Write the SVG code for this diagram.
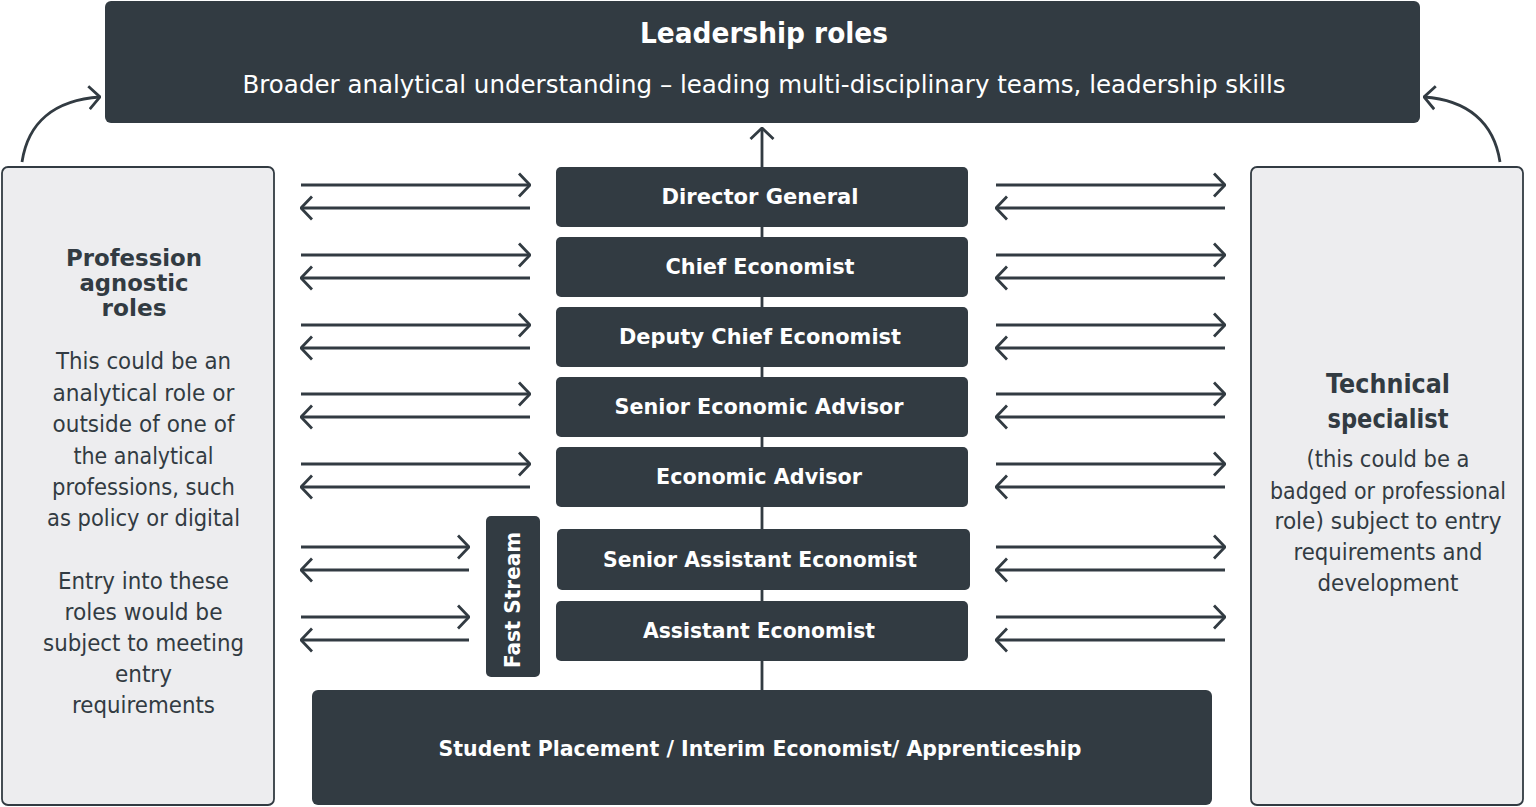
<svg xmlns="http://www.w3.org/2000/svg" width="1536" height="807" viewBox="0 0 1536 807">
<style>
.dark{fill:#323b42;}
.light{fill:#ededef;stroke:#323b42;stroke-width:1.8;}
.t{font-family:"DejaVu Sans","Noto Sans",sans-serif;text-anchor:middle;}
.w{fill:#ffffff;}
.k{fill:#323b42;}
.b{font-weight:bold;}
.ln{fill:none;stroke:#323b42;stroke-width:2.8;}
</style>
<defs>
<marker id="ah" viewBox="0 0 13 26" refX="12" refY="13" markerWidth="13" markerHeight="26" markerUnits="userSpaceOnUse" orient="auto">
<path d="M1,1.5 L12,13 L1,24.5" fill="none" stroke="#323b42" stroke-width="2.8" stroke-linecap="butt"/>
</marker>
</defs>
<rect width="1536" height="807" fill="#ffffff"/>
<g id="connectors">
<line class="ln" x1="762" y1="690" x2="762" y2="128" marker-end="url(#ah)"/>
<path class="ln" d="M22,162 C28,122 55,100 100,97" marker-end="url(#ah)"/>
<path class="ln" d="M1500,162 C1494,122 1467,100 1424,97" marker-end="url(#ah)"/>
<g id="left-arrows">
<line class="ln" x1="301" y1="185" x2="530" y2="185" marker-end="url(#ah)"/>
<line class="ln" x1="530" y1="208" x2="301" y2="208" marker-end="url(#ah)"/>
<line class="ln" x1="301" y1="255" x2="530" y2="255" marker-end="url(#ah)"/>
<line class="ln" x1="530" y1="278" x2="301" y2="278" marker-end="url(#ah)"/>
<line class="ln" x1="301" y1="325" x2="530" y2="325" marker-end="url(#ah)"/>
<line class="ln" x1="530" y1="348" x2="301" y2="348" marker-end="url(#ah)"/>
<line class="ln" x1="301" y1="394" x2="530" y2="394" marker-end="url(#ah)"/>
<line class="ln" x1="530" y1="417" x2="301" y2="417" marker-end="url(#ah)"/>
<line class="ln" x1="301" y1="464" x2="530" y2="464" marker-end="url(#ah)"/>
<line class="ln" x1="530" y1="487" x2="301" y2="487" marker-end="url(#ah)"/>
<line class="ln" x1="301" y1="547" x2="469" y2="547" marker-end="url(#ah)"/>
<line class="ln" x1="469" y1="570" x2="301" y2="570" marker-end="url(#ah)"/>
<line class="ln" x1="301" y1="617" x2="469" y2="617" marker-end="url(#ah)"/>
<line class="ln" x1="469" y1="640" x2="301" y2="640" marker-end="url(#ah)"/>
</g>
<g id="right-arrows">
<line class="ln" x1="996" y1="185" x2="1225" y2="185" marker-end="url(#ah)"/>
<line class="ln" x1="1225" y1="208" x2="996" y2="208" marker-end="url(#ah)"/>
<line class="ln" x1="996" y1="255" x2="1225" y2="255" marker-end="url(#ah)"/>
<line class="ln" x1="1225" y1="278" x2="996" y2="278" marker-end="url(#ah)"/>
<line class="ln" x1="996" y1="325" x2="1225" y2="325" marker-end="url(#ah)"/>
<line class="ln" x1="1225" y1="348" x2="996" y2="348" marker-end="url(#ah)"/>
<line class="ln" x1="996" y1="394" x2="1225" y2="394" marker-end="url(#ah)"/>
<line class="ln" x1="1225" y1="417" x2="996" y2="417" marker-end="url(#ah)"/>
<line class="ln" x1="996" y1="464" x2="1225" y2="464" marker-end="url(#ah)"/>
<line class="ln" x1="1225" y1="487" x2="996" y2="487" marker-end="url(#ah)"/>
<line class="ln" x1="996" y1="547" x2="1225" y2="547" marker-end="url(#ah)"/>
<line class="ln" x1="1225" y1="570" x2="996" y2="570" marker-end="url(#ah)"/>
<line class="ln" x1="996" y1="617" x2="1225" y2="617" marker-end="url(#ah)"/>
<line class="ln" x1="1225" y1="640" x2="996" y2="640" marker-end="url(#ah)"/>
</g>
</g>
<g id="leadership">
<rect class="dark" x="105" y="1" width="1315" height="122" rx="6"/>
<text class="t w b" x="764" y="43" font-size="29" textLength="248" lengthAdjust="spacingAndGlyphs">Leadership roles</text>
<text class="t w" x="764" y="93" font-size="25" textLength="1043" lengthAdjust="spacingAndGlyphs">Broader analytical understanding – leading multi-disciplinary teams, leadership skills</text>
</g>
<g id="profession-agnostic">
<rect class="light" x="2" y="167" width="272" height="638" rx="6"/>
<text class="t k b" x="134" y="266" font-size="23.5" textLength="136" lengthAdjust="spacingAndGlyphs">Profession</text>
<text class="t k b" x="134" y="291" font-size="23.5" textLength="109" lengthAdjust="spacingAndGlyphs">agnostic</text>
<text class="t k b" x="134" y="316" font-size="23.5" textLength="65" lengthAdjust="spacingAndGlyphs">roles</text>
<text class="t k" x="143.5" y="369" font-size="23" textLength="175" lengthAdjust="spacingAndGlyphs">This could be an</text>
<text class="t k" x="143.5" y="401" font-size="23" textLength="182" lengthAdjust="spacingAndGlyphs">analytical role or</text>
<text class="t k" x="143.5" y="432" font-size="23" textLength="182" lengthAdjust="spacingAndGlyphs">outside of one of</text>
<text class="t k" x="143.5" y="464" font-size="23" textLength="140" lengthAdjust="spacingAndGlyphs">the analytical</text>
<text class="t k" x="143.5" y="495" font-size="23" textLength="183" lengthAdjust="spacingAndGlyphs">professions, such</text>
<text class="t k" x="143.5" y="526" font-size="23" textLength="193" lengthAdjust="spacingAndGlyphs">as policy or digital</text>
<text class="t k" x="143.5" y="589" font-size="23" textLength="171" lengthAdjust="spacingAndGlyphs">Entry into these</text>
<text class="t k" x="143.5" y="620" font-size="23" textLength="158" lengthAdjust="spacingAndGlyphs">roles would be</text>
<text class="t k" x="143.5" y="651" font-size="23" textLength="201" lengthAdjust="spacingAndGlyphs">subject to meeting</text>
<text class="t k" x="143.5" y="682" font-size="23" textLength="57" lengthAdjust="spacingAndGlyphs">entry</text>
<text class="t k" x="143.5" y="713" font-size="23" textLength="143" lengthAdjust="spacingAndGlyphs">requirements</text>
</g>
<g id="technical-specialist">
<rect class="light" x="1251" y="167" width="272" height="638" rx="6"/>
<text class="t k b" x="1388" y="393" font-size="27" textLength="124" lengthAdjust="spacingAndGlyphs">Technical</text>
<text class="t k b" x="1388" y="428" font-size="27" textLength="121" lengthAdjust="spacingAndGlyphs">specialist</text>
<text class="t k" x="1388" y="467" font-size="23" textLength="163" lengthAdjust="spacingAndGlyphs">(this could be a</text>
<text class="t k" x="1388" y="499" font-size="23" textLength="236" lengthAdjust="spacingAndGlyphs">badged or professional</text>
<text class="t k" x="1388" y="529" font-size="23" textLength="227" lengthAdjust="spacingAndGlyphs">role) subject to entry</text>
<text class="t k" x="1388" y="560" font-size="23" textLength="189" lengthAdjust="spacingAndGlyphs">requirements and</text>
<text class="t k" x="1388" y="591" font-size="23" textLength="141" lengthAdjust="spacingAndGlyphs">development</text>
</g>
<g id="director-general">
<rect class="dark" x="556" y="167" width="412" height="60" rx="5"/>
<text class="t w b" x="760" y="204" font-size="22" textLength="197" lengthAdjust="spacingAndGlyphs">Director General</text>
</g>
<g id="chief-economist">
<rect class="dark" x="556" y="237" width="412" height="60" rx="5"/>
<text class="t w b" x="760" y="274" font-size="22" textLength="189" lengthAdjust="spacingAndGlyphs">Chief Economist</text>
</g>
<g id="deputy-chief-economist">
<rect class="dark" x="556" y="307" width="412" height="60" rx="5"/>
<text class="t w b" x="760" y="344" font-size="22" textLength="282" lengthAdjust="spacingAndGlyphs">Deputy Chief Economist</text>
</g>
<g id="senior-economic-advisor">
<rect class="dark" x="556" y="377" width="412" height="60" rx="5"/>
<text class="t w b" x="759" y="414" font-size="22" textLength="289" lengthAdjust="spacingAndGlyphs">Senior Economic Advisor</text>
</g>
<g id="economic-advisor">
<rect class="dark" x="556" y="447" width="412" height="60" rx="5"/>
<text class="t w b" x="759" y="484" font-size="22" textLength="206" lengthAdjust="spacingAndGlyphs">Economic Advisor</text>
</g>
<g id="senior-assistant-economist">
<rect class="dark" x="557" y="529" width="413" height="61" rx="5"/>
<text class="t w b" x="760" y="567" font-size="22" textLength="314" lengthAdjust="spacingAndGlyphs">Senior Assistant Economist</text>
</g>
<g id="assistant-economist">
<rect class="dark" x="556" y="601" width="412" height="60" rx="5"/>
<text class="t w b" x="759" y="638" font-size="22" textLength="232" lengthAdjust="spacingAndGlyphs">Assistant Economist</text>
</g>
<g id="fast-stream">
<rect class="dark" x="486" y="516" width="54" height="161" rx="5"/>
<text class="t w b" transform="translate(520,600) rotate(-90)" x="0" y="0" font-size="22" textLength="136" lengthAdjust="spacingAndGlyphs">Fast Stream</text>
</g>
<g id="entry-level">
<rect class="dark" x="312" y="690" width="900" height="115" rx="6"/>
<text class="t w b" x="760" y="756" font-size="22" textLength="643" lengthAdjust="spacingAndGlyphs">Student Placement / Interim Economist/ Apprenticeship</text>
</g>
</svg>
